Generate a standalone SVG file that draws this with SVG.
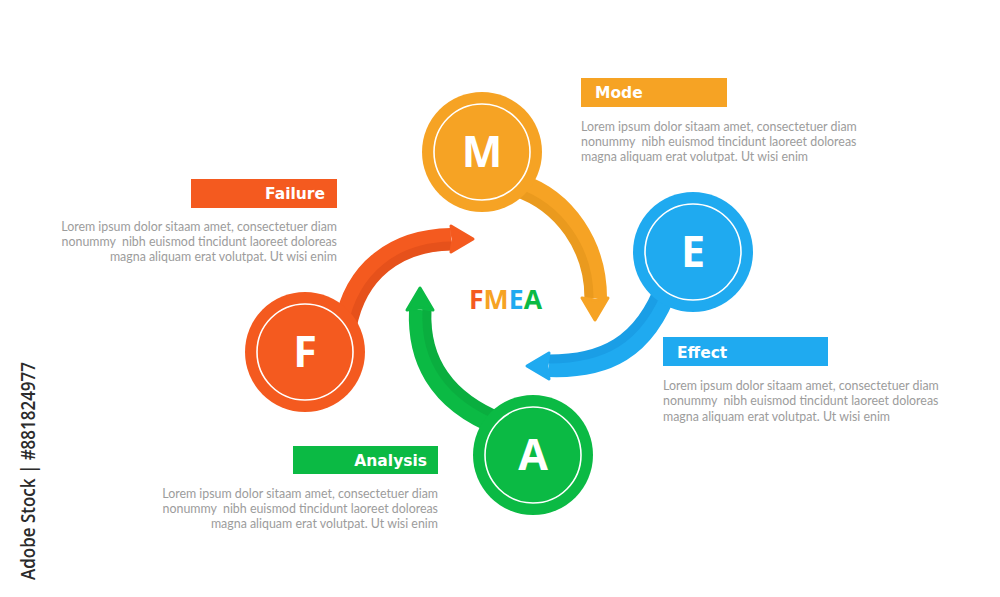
<svg xmlns="http://www.w3.org/2000/svg" xmlns:xlink="http://www.w3.org/1999/xlink" width="1000" height="597" viewBox="0 0 1000 597">
<defs>
<style>
.shaft{fill:none;stroke-width:22;stroke-linecap:butt}
.shade{fill:none;stroke-width:9;stroke-linecap:butt}
.ring{fill:none;stroke:#fff;stroke-width:1.6}
.letter{font-family:"Open Sans","Noto Sans","DejaVu Sans",sans-serif;font-weight:700;font-size:43px;fill:#fff;text-anchor:middle}
.tag{font-family:"DejaVu Sans","Open Sans",sans-serif;font-weight:700;font-size:15.5px;fill:#fff}
.body{font-family:Lato,"Liberation Sans",sans-serif;font-size:12.4px;fill:#9c9c9c}
.o{fill:#F6A324;stroke:#F6A324}
.r{fill:#F45A1F;stroke:#F45A1F}
.b{fill:#1FAAF0;stroke:#1FAAF0}
.g{fill:#0BBA44;stroke:#0BBA44}
</style>
<path id="head" d="M0,0 L-22,-13 L-20,0 L-22,13 Z" stroke-width="3" stroke-linejoin="round"/>
</defs>
<rect width="1000" height="597" fill="#fff"/>

<g id="connectors">
  <path class="shaft" stroke="#F6A324" d="M520,185 C565,200 596,245 596,298"/>
  <path class="shade" stroke="#EA9A1E" d="M515,192 C559,207 589,249 589,298"/>
  <use href="#head" class="o" transform="translate(595,320) rotate(90)"/>

  <path class="shaft" stroke="#1FAAF0" d="M668,285 C645,350 605,368 549,366"/>
  <path class="shade" stroke="#1A9EE6" d="M661,282 C639,342 601,359 549,359"/>
  <use href="#head" class="b" transform="translate(527,366) rotate(180)"/>

  <path class="shaft" stroke="#0BBA44" d="M420,310 C418,355 435,400 500,425"/>
  <path class="shade" stroke="#0AAE3F" d="M427,310 C425,351 441,393 503,418"/>
  <use href="#head" class="g" transform="translate(420,288) rotate(-90)"/>

  <path class="shaft" stroke="#F45A1F" d="M345,325 C355,270 395,240 451,239"/>
  <path class="shade" stroke="#E6511B" d="M352,328 C362,276 399,247 451,246"/>
  <use href="#head" class="r" transform="translate(473,239)"/>
</g>

<g id="node-M">
  <circle cx="482" cy="152" r="60" fill="#F6A324"/>
  <circle class="ring" cx="482" cy="152" r="48"/>
  <text class="letter" x="482" y="167">M</text>
</g>
<g id="node-E">
  <circle cx="693" cy="252" r="60" fill="#1FAAF0"/>
  <circle class="ring" cx="693" cy="252" r="48"/>
  <text class="letter" x="693" y="267">E</text>
</g>
<g id="node-A">
  <circle cx="533" cy="455" r="60" fill="#0BBA44"/>
  <circle class="ring" cx="533" cy="455" r="48"/>
  <text class="letter" x="533" y="470">A</text>
</g>
<g id="node-F">
  <circle cx="305" cy="352" r="60" fill="#F45A1F"/>
  <circle class="ring" cx="305" cy="352" r="48"/>
  <text class="letter" x="305" y="367">F</text>
</g>

<g id="center-title">
  <text x="469" y="309" font-family="'Open Sans','Noto Sans',sans-serif" font-weight="700" font-size="27" textLength="73" lengthAdjust="spacingAndGlyphs"><tspan fill="#F45A1F">F</tspan><tspan fill="#F6A324">M</tspan><tspan fill="#1FAAF0">E</tspan><tspan fill="#0BBA44">A</tspan></text>
</g>

<g id="label-mode">
  <rect x="581" y="78" width="146" height="29" fill="#F6A324"/>
  <text class="tag" x="595" y="98">Mode</text>
  <text class="body" x="581" y="131">Lorem ipsum dolor sitaam amet, consectetuer diam</text>
  <text class="body" x="581" y="146" xml:space="preserve">nonummy  nibh euismod tincidunt laoreet doloreas</text>
  <text class="body" x="581" y="161">magna aliquam erat volutpat. Ut wisi enim</text>
</g>

<g id="label-failure">
  <rect x="191" y="179" width="146" height="29" fill="#F45A1F"/>
  <text class="tag" x="325" y="199" text-anchor="end">Failure</text>
  <text class="body" x="337" y="231" text-anchor="end">Lorem ipsum dolor sitaam amet, consectetuer diam</text>
  <text class="body" x="337" y="246" text-anchor="end" xml:space="preserve">nonummy  nibh euismod tincidunt laoreet doloreas</text>
  <text class="body" x="337" y="261" text-anchor="end">magna aliquam erat volutpat. Ut wisi enim</text>
</g>

<g id="label-effect">
  <rect x="663" y="337" width="165" height="29" fill="#1FAAF0"/>
  <text class="tag" x="677" y="358">Effect</text>
  <text class="body" x="663" y="390">Lorem ipsum dolor sitaam amet, consectetuer diam</text>
  <text class="body" x="663" y="405" xml:space="preserve">nonummy  nibh euismod tincidunt laoreet doloreas</text>
  <text class="body" x="663" y="421">magna aliquam erat volutpat. Ut wisi enim</text>
</g>

<g id="label-analysis">
  <rect x="293" y="446" width="145" height="28" fill="#0BBA44"/>
  <text class="tag" x="427" y="466" text-anchor="end">Analysis</text>
  <text class="body" x="438" y="498" text-anchor="end">Lorem ipsum dolor sitaam amet, consectetuer diam</text>
  <text class="body" x="438" y="513" text-anchor="end" xml:space="preserve">nonummy  nibh euismod tincidunt laoreet doloreas</text>
  <text class="body" x="438" y="528" text-anchor="end">magna aliquam erat volutpat. Ut wisi enim</text>
</g>

<text transform="translate(35,580) rotate(-90)" font-family="'Open Sans','Noto Sans',sans-serif" font-size="20" font-weight="600" fill="#2b2b2b" textLength="218" lengthAdjust="spacingAndGlyphs">Adobe Stock | #881824977</text>
</svg>
